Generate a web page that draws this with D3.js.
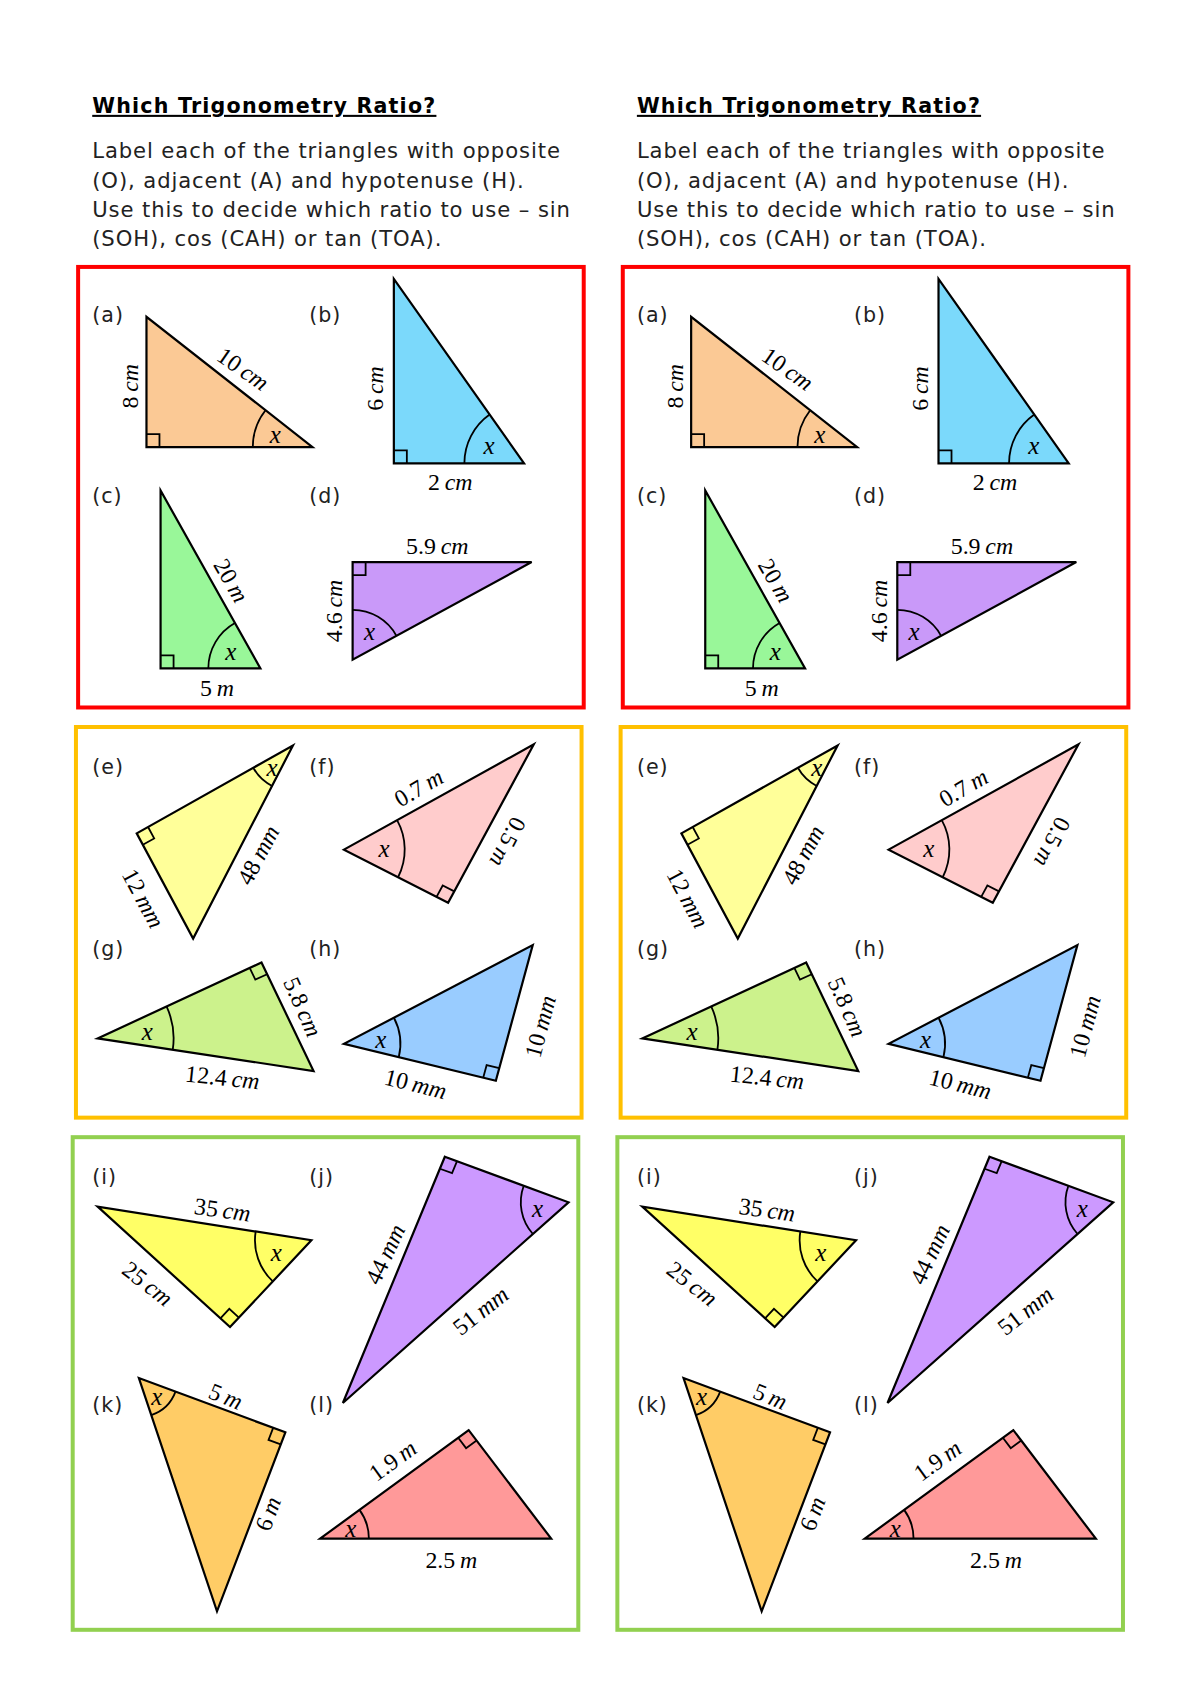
<!DOCTYPE html>
<html><head><meta charset="utf-8">
<script src="https://cdn.jsdelivr.net/npm/d3@7"></script>
<style>body{margin:0;background:#fff}</style>
</head><body>
<svg width="1200" height="1696"></svg>
<script>
// worksheet text
const title = "Which Trigonometry Ratio?";
const intro = ["Label each of the triangles with opposite", "(O), adjacent (A) and hypotenuse (H).",
  "Use this to decide which ratio to use \u2013 sin", "(SOH), cos (CAH) or tan (TOA)."];

// boxes: [x0,y0,x1,y1,colour]
const boxes = [[72,246,538,652,"#ff0000"],[70,670,536,1030,"#ffc000"],[67,1048,533,1502,"#92d050"]];

// triangles: id, label pos, vertices [rightAngle, angleX, other], fill, arc radius
const tris = [
  {id:"a", lp:[85,290], ra:[135,412], ax:[288,412], ot:[135,292], fill:"#fbc995", r:55},
  {id:"b", lp:[285,290], ra:[363,427], ax:[483,427], ot:[363,257], fill:"#7bd9fb", r:55},
  {id:"c", lp:[85,457], ra:[148,616], ax:[240,616], ot:[148,452], fill:"#99f799", r:48},
  {id:"d", lp:[285,457], ra:[325,518], ax:[325,608], ot:[490,518], fill:"#c999f9", r:46},
  {id:"e", lp:[85,707], ra:[126,768], ax:[270,687], ot:[178,865], fill:"#ffff99", r:42},
  {id:"f", lp:[285,707], ra:[413,832], ax:[317,783], ot:[492,686], fill:"#ffcccc", r:56},
  {id:"g", lp:[85,875], ra:[241,887], ax:[90,957], ot:[289,987], fill:"#ccf28c", r:70},
  {id:"h", lp:[285,875], ra:[457,996], ax:[317,962], ot:[491,871], fill:"#99ccff", r:52},
  {id:"i", lp:[85,1085], ra:[212,1223], ax:[287,1143], ot:[90,1112], fill:"#ffff66", r:52},
  {id:"j", lp:[285,1085], ra:[410,1066], ax:[524,1108], ot:[316,1293], fill:"#cc99ff", r:44},
  {id:"k", lp:[85,1295], ra:[263,1320], ax:[128,1270], ot:[200,1485], fill:"#ffcc66", r:36},
  {id:"l", lp:[285,1295], ra:[432,1318], ax:[295,1418], ot:[508,1418], fill:"#ff9999", r:45}
];

// side labels: [number, unit, x, y, rotation]
const sideLabels = [
  ["10","cm",224,340,35],["8","cm",120,356,-90],
  ["6","cm",346,358,-90],["2","cm",415,444,0],
  ["20","m",213,535,60],["5","m",200,634,0],
  ["5.9","cm",403,503,0],["4.6","cm",308,563,-90],
  ["12","mm",132,828,62],["48","mm",238,788,-62],
  ["0.7","m",386,726,-30],["0.5","m",468,776,117],
  ["5.8","cm",279,928,66],["12.4","cm",205,993,6],
  ["10","mm",498,946,-75],["10","mm",383,999,14],
  ["35","cm",205,1115,8],["25","cm",136,1183,38],
  ["44","mm",355,1156,-65],["51","mm",443,1208,-38],
  ["5","m",208,1287,22],["6","m",247,1395,-70],
  ["1.9","m",362,1346,-36],["2.5","m",416,1438,0]
];
const colOffsets = [0, 502];

const svg = d3.select("svg");
const sx = d3.scaleLinear().domain([0,1106]).range([0,1200]);
const sy = d3.scaleLinear().domain([0,1563]).range([0,1696]);
const k = sx(1) - sx(0);
const P = p => [sx(p[0]), sy(p[1])];

colOffsets.forEach(off => {
  const g = svg.append("g").attr("transform", `translate(${sx(off)},0)`);
  g.append("text").attr("x", sx(85)).attr("y", sy(104)).attr("font-family","DejaVu Sans")
    .attr("font-weight","bold").attr("font-size", 19*k).attr("letter-spacing", 1.2)
    .attr("text-decoration","underline").text(title);
  intro.forEach((t,i) => g.append("text").attr("x", sx(85)).attr("y", sy(146 + i*27))
    .attr("font-family","DejaVu Sans").attr("font-size", 19.5*k).attr("letter-spacing", 0.9)
    .attr("fill","#222").text(t));

  g.selectAll("rect.box").data(boxes).join("rect").attr("class","box")
    .attr("x", d => sx(d[0])).attr("y", d => sy(d[1]))
    .attr("width", d => sx(d[2]) - sx(d[0])).attr("height", d => sy(d[3]) - sy(d[1]))
    .attr("fill","none").attr("stroke", d => d[4]).attr("stroke-width", 4);

  tris.forEach(t => {
    const A = P(t.ra), X = P(t.ax), O = P(t.ot);
    g.append("path").attr("d", `M${A}L${X}L${O}Z`).attr("fill", t.fill)
      .attr("stroke","#000").attr("stroke-width",2.2).attr("stroke-linejoin","miter");
    // right angle marker
    const unit = (p,q) => { const dx=q[0]-p[0], dy=q[1]-p[1], L=Math.hypot(dx,dy); return [dx/L, dy/L]; };
    const u = unit(A,X), v = unit(A,O), s = 13;
    g.append("path").attr("d", `M${A[0]+u[0]*s},${A[1]+u[1]*s}L${A[0]+(u[0]+v[0])*s},${A[1]+(u[1]+v[1])*s}L${A[0]+v[0]*s},${A[1]+v[1]*s}`)
      .attr("fill","none").attr("stroke","#000").attr("stroke-width",1.8);
    // angle arc at x
    const r = t.r*k, a = unit(X,A), b = unit(X,O);
    const sweep = (a[0]*b[1] - a[1]*b[0]) > 0 ? 1 : 0;
    g.append("path").attr("d", `M${X[0]+a[0]*r},${X[1]+a[1]*r}A${r},${r} 0 0 ${sweep} ${X[0]+b[0]*r},${X[1]+b[1]*r}`)
      .attr("fill","none").attr("stroke","#000").attr("stroke-width",1.8);
    const bis = [a[0]+b[0], a[1]+b[1]], bl = Math.hypot(bis[0],bis[1]);
    const xr = r*0.66;
    g.append("text").attr("x", X[0]+bis[0]/bl*xr).attr("y", X[1]+bis[1]/bl*xr)
      .attr("text-anchor","middle").attr("dominant-baseline","central")
      .attr("font-family","Liberation Serif").attr("font-style","italic").attr("font-size",23*k).text("x");
    g.append("text").attr("x", sx(t.lp[0])).attr("y", sy(t.lp[1])+7)
      .attr("font-family","DejaVu Sans").attr("font-size",19*k).attr("letter-spacing",1)
      .attr("fill","#222").text(`(${t.id})`);
  });

  sideLabels.forEach(d => {
    const tx = g.append("text").attr("transform", `translate(${sx(d[2])},${sy(d[3])}) rotate(${d[4]})`)
      .attr("text-anchor","middle").attr("dominant-baseline","central")
      .attr("font-family","Liberation Serif").attr("font-size",22*k);
    tx.append("tspan").text(d[0] + "\u2009");
    tx.append("tspan").attr("font-style","italic").text(d[1]);
  });
});
</script>
</body></html>
